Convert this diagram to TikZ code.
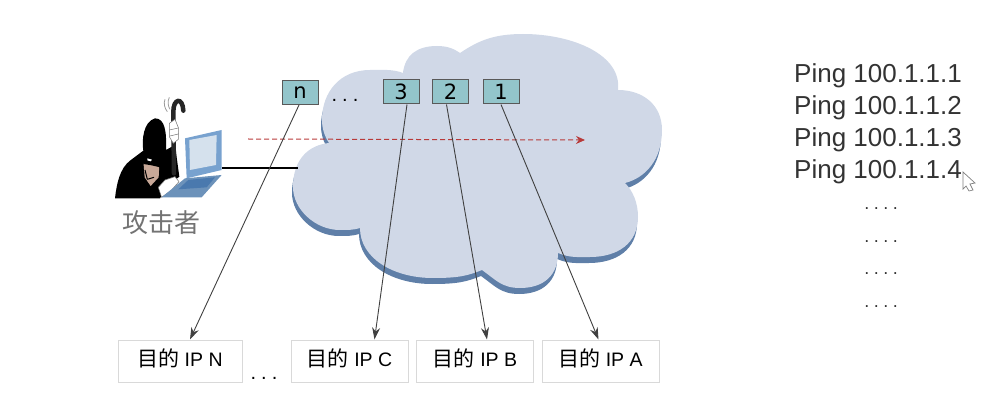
\documentclass[tikz,border=0pt]{standalone}
\usepackage{fontspec}
\setmainfont{Liberation Sans}
\newfontfamily\cjk{Noto Sans CJK SC}
\newfontfamily\pktfont{DejaVu Sans}
\newfontfamily\dotfont[LetterSpace=25]{Liberation Sans}
\usetikzlibrary{arrows.meta}
\definecolor{cloudfill}{HTML}{D0D8E7}
\definecolor{cloudedge}{HTML}{5F7FA8}
\definecolor{pktfill}{HTML}{93C5CB}
\definecolor{lapblue}{HTML}{78A2CF}
\definecolor{lapdark}{HTML}{4A79AE}
\definecolor{flowred}{HTML}{B83A3A}
\definecolor{skintone}{HTML}{C8A898}
\tikzstyle{packet}=[draw=black!65,fill=pktfill,line width=1pt,minimum width=36pt,minimum height=24pt,inner sep=0pt,font=\pktfont\fontsize{21}{24}\selectfont]
\tikzstyle{target}=[draw=black!15,fill=white,line width=1pt,minimum height=42pt,inner sep=0pt,text height=15pt,text depth=5pt,font=\fontsize{19.5}{22}\selectfont]
\tikzstyle{arrow}=[draw=black!75,line width=0.9pt,-{Stealth[length=12pt,width=8pt]}]
\tikzstyle{pingline}=[anchor=west,inner sep=0pt,text=black!80,font=\fontsize{26}{30}\selectfont]
\tikzstyle{dotline}=[inner sep=0pt,text=black!80,font=\dotfont\fontsize{18}{20}\selectfont]
\newcommand{\cloudshape}{(460,53) .. controls +(18,-12) and +(-30,0) .. (523,34)
    .. controls +(50,0) and +(4,-35) .. (618,90)
    .. controls +(25,0) and +(0,-25) .. (662,130)
    .. controls +(0,30) and +(20,-5) .. (625,183)
    .. controls +(8,8) and +(0,-14) .. (638,217)
    .. controls +(0,26) and +(28,0) .. (590,257)
    .. controls +(-12,0) and +(12,5) .. (558,253)
    .. controls +(0,22) and +(24,0) .. (520,288)
    .. controls +(-18,0) and +(14,10) .. (482,270)
    .. controls +(-15,6) and +(25,0) .. (433,278)
    .. controls +(-40,0) and +(0,30) .. (360,228)
    .. controls +(-6,2) and +(8,0) .. (340,230)
    .. controls +(-25,0) and +(0,22) .. (293,187)
    .. controls +(0,-28) and +(-20,2) .. (329,143)
    .. controls +(-5,-8) and +(0,8) .. (322,120)
    .. controls +(0,-28) and +(-30,0) .. (370,70)
    .. controls +(12,0) and +(-10,-4) .. (403,73)
    .. controls +(2,-18) and +(-20,0) .. (437,46)
    .. controls +(9,0) and +(-7,-5) .. (460,53) -- cycle}

\begin{document}
\begin{tikzpicture}[x=1pt,y=-1pt]
    \useasboundingbox (0,0) rectangle (999,414);
    % cloud
    \fill[cloudedge,shift={(-1,6)}] \cloudshape;
    \fill[cloudfill] \cloudshape;
    % attacker
    \begin{scope}[shift={(110,90)},x=0.3333pt,y=-0.3333pt]
        \draw[black!40,line width=0.8pt] (165,28) .. controls (160,40) and (164,55) .. (172,65);
        \draw[black!40,line width=0.8pt] (178,22) .. controls (172,35) and (174,48) .. (180,58);
        % body and hat
        \fill[black] (15,325) .. controls (20,280) and (30,235) .. (60,212) -- (100,182)
            .. controls (95,150) and (100,95) .. (135,85) .. controls (165,85) and (170,125) .. (168,180)
            -- (195,165) -- (208,260) -- (170,290) -- (150,325) -- cycle;
        % face and mask
        \fill[skintone] (100,212) -- (148,222) -- (146,262) -- (122,288) -- (104,262) -- cycle;
        \fill[black] (96,190) -- (152,205) -- (150,232) -- (125,226) -- (100,222) -- cycle;
        \fill[white] (112,205) -- (126,209) -- (122,214) -- (112,211) -- cycle;
        \draw[black,line width=1pt] (112,268) -- (132,262);
        \draw[black,line width=1pt] (105,240) -- (112,268);
        % crowbar
        \draw[black!85,line width=4.5pt,line cap=round] (192,250) -- (190,65) .. controls (190,25) and (218,20) .. (220,62);
        % gloves
        \fill[white,draw=black!55,line width=0.5pt] (178,100) -- (195,88) -- (206,115) -- (205,148) -- (190,160) -- (178,140) -- cycle;
        \draw[black!55,line width=0.5pt] (178,120) -- (205,114) (180,138) -- (205,132);
        \fill[white,draw=black!55,line width=0.5pt] (145,292) -- (165,270) -- (195,260) -- (207,275) -- (185,300) -- (155,322) -- cycle;
        % laptop
        \fill[lapblue] (225,145) -- (335,120) -- (335,240) -- (230,265) -- cycle;
        \fill[black!5!lapblue!30!white] (238,150) -- (320,135) -- (318,225) -- (240,240) -- cycle;
        \fill[lapblue!90!black] (225,265) -- (335,255) -- (275,322) -- (155,322) -- cycle;
        \fill[lapdark] (235,270) -- (315,262) -- (290,292) -- (205,298) -- cycle;
    \end{scope}
    \node[inner sep=0pt,text=black!55,font=\cjk\fontsize{26}{30}\selectfont] (attacker) at (161,223) {攻击者};
    % links
    \coordinate (laptop) at (222,168);
    \coordinate (edge) at (298,168);
    \coordinate (flowstart) at (248,139);
    \coordinate (flowend) at (585,140);
    \draw[black,line width=2.4pt] (laptop) -- (edge);
    \draw[flowred,dash pattern=on 5pt off 3pt,line width=1pt,-{Stealth[length=9pt,width=8pt]}] (flowstart) -- (flowend);
    % packets
    \foreach \pos/\name/\lab in {{(300,92.5)/pktn/n}, {(401,92)/pkt3/3}, {(450.5,92)/pkt2/2}, {(501,92)/pkt1/1}}
        \node[packet] (\name) at \pos {\lab};
    \node[inner sep=0pt,font=\dotfont\fontsize{20}{22}\selectfont] (gapa) at (345,100) {...};
    % targets
    \foreach \pos/\wid/\name/\lab in {{(180,361)/124pt/ipn/N}, {(349.5,361)/117pt/ipc/C}, {(475,361)/117pt/ipb/B}, {(600.5,361)/117pt/ipa/A}}
        \node[target,minimum width=\wid] (\name) at \pos {{\cjk\fontsize{21}{22}\selectfont 目的} IP \lab};
    \node[inner sep=0pt,font=\dotfont\fontsize{20}{22}\selectfont] (gapb) at (264,378) {...};
    % connectors
    \foreach \source/\sx/\dest/\dx in {pktn/-1/ipn/10, pkt3/6/ipc/25, pkt2/-4/ipb/12, pkt1/0/ipa/-2}
        \path[arrow] ([xshift=\sx pt]\source.south) -- ([xshift=\dx pt]\dest.north);
    % ping list
    \foreach \y/\last/\name in {76/1/pinga, 108/2/pingb, 140/3/pingc, 172/4/pingd}
        \node[pingline] (\name) at (794,\y) {Ping 100.1.1.\last};
    \foreach \y/\name in {209/dota, 242/dotb, 274/dotc, 307/dotd}
        \node[dotline] (\name) at (881,\y) {....};
    % mouse pointer
    \draw[black!50,fill=white,line width=0.7pt] (963,172) -- (975,183) -- (970,184) -- (973,190) -- (969,191) -- (966,186) -- (963,189) -- cycle;
\end{tikzpicture}
\end{document}
